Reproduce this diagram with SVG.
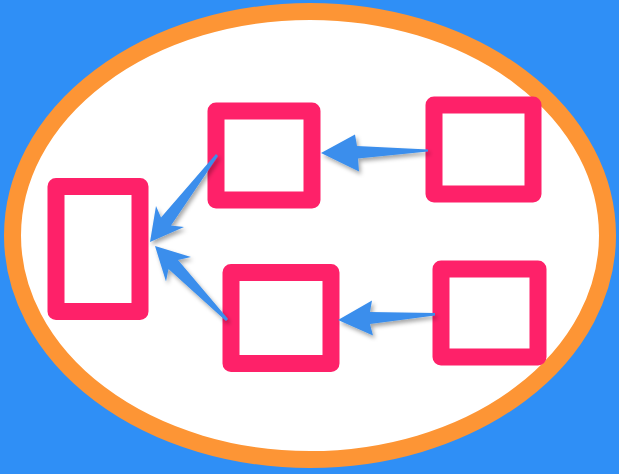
<svg xmlns="http://www.w3.org/2000/svg" width="619" height="474" viewBox="0 0 619 474">
  <style>
    .box { fill: #ffffff; stroke: #FE2169; stroke-width: 17; stroke-linejoin: round; }
    .arrow { fill: #3B8EEC; filter: url(#shadow); }
  </style>
  <defs>
    <filter id="shadow" x="-20%" y="-20%" width="150%" height="150%">
      <feDropShadow dx="2" dy="3" stdDeviation="2" flood-color="#000000" flood-opacity="0.35"/>
    </filter>
  </defs>
  <rect x="0" y="0" width="619" height="474" fill="#2F8FF6"/>
  <ellipse cx="310" cy="235.5" rx="297.5" ry="224" fill="#ffffff" stroke="#FD9535" stroke-width="17"/>

  <g id="node-left"><rect class="box" x="56" y="186.5" width="84" height="125"/></g>
  <g id="node-top-mid"><rect class="box" x="216" y="111" width="96" height="89"/></g>
  <g id="node-top-right"><rect class="box" x="434" y="105" width="99" height="89"/></g>
  <g id="node-bottom-mid"><rect class="box" x="231" y="272.5" width="100" height="91"/></g>
  <g id="node-bottom-right"><rect class="box" x="441" y="269" width="97" height="88"/></g>

  <g id="connectors">
    <path class="arrow" d="M321,153 L355,134.5 L357,146 L428,149.5 L428,151.5 L358,158.5 L359,171.5 Z"/>
    <path class="arrow" d="M338,320 L372,300.5 L370,312 L435,313 L435,315.5 L370,324 L373,335.5 Z"/>
    <path class="arrow" d="M150,242 L156,206 L161,217.5 L216,154 L218,156 L171,225.5 L184,227 Z"/>
    <path class="arrow" d="M155,246 L191,257 L178,260 L228,319 L226,321 L168.5,269 L166,281.5 Z"/>
  </g>
</svg>
